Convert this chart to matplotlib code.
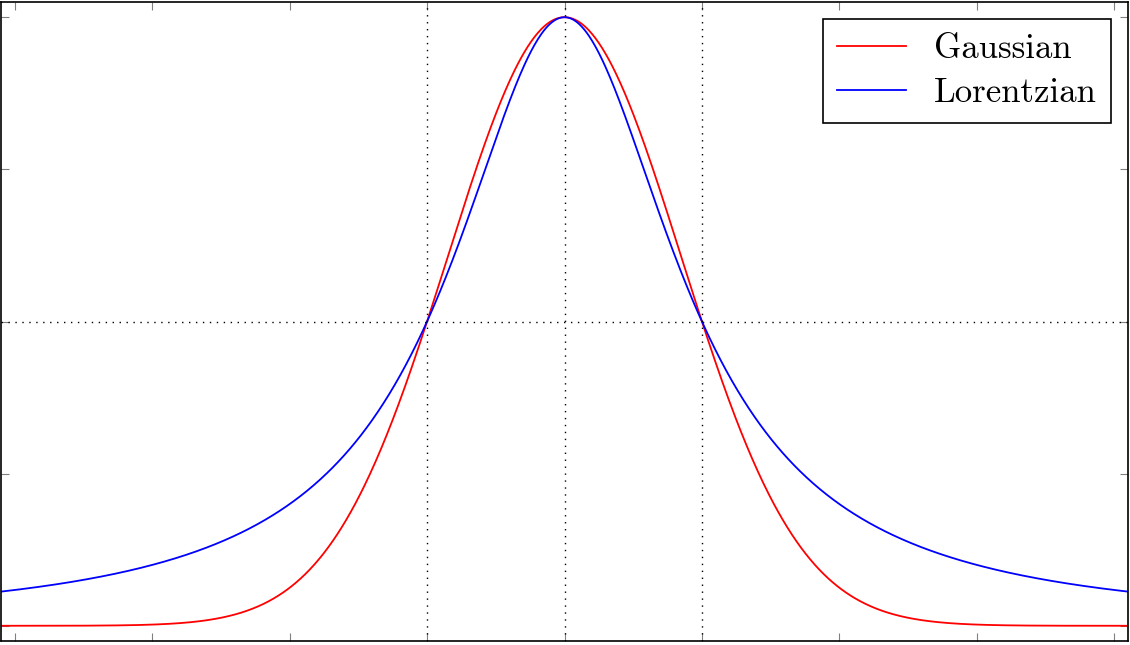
import matplotlib; matplotlib.use('agg')
import matplotlib.pyplot as plt
import numpy as np

# curve parameters (peak 1 at x=0, half maximum at x=+-1)
center = 0.0
half_width = 1.0
peak = 1.0
x_range = (-4.1, 4.1)
y_range = (-0.025, 1.025)
labels = ['Gaussian', 'Lorentzian']
colors = ['red', 'blue']

x = np.linspace(x_range[0], x_range[1], 1000)
sigma = half_width / np.sqrt(2 * np.log(2))
gauss = peak * np.exp(-(x - center)**2 / (2 * sigma**2))
lorentz = peak / (1 + ((x - center) / half_width)**2)

fig = plt.figure(figsize=(11.3, 6.45), dpi=100)
ax = fig.add_axes([1/1130, 4/645, 1127/1130, 639/645])
ax.plot(x, gauss, color=colors[0], lw=1.3, label=labels[0])
ax.plot(x, lorentz, color=colors[1], lw=1.3, label=labels[1])
ax.set_xlim(*x_range)
ax.set_ylim(*y_range)
ax.set_xticks(np.arange(-4, 5, 1))
ax.set_yticks([0, 0.25, 0.5, 0.75, 1.0])
ax.tick_params(direction='in', length=6, color='grey', top=True, right=True,
               labelbottom=False, labelleft=False)
for v in [-1, 0, 1]:
    ax.axvline(v, color='black', ls=(0, (1, 4)), lw=1)
ax.axhline(0.5, color='black', ls=(0, (1, 4)), lw=1)
for s in ax.spines.values():
    s.set_linewidth(1.2)
leg = ax.legend(loc='upper right', fancybox=False, edgecolor='black', framealpha=1,
                prop={'family': 'cmr10', 'size': 25}, handlelength=2.0,
                borderaxespad=0.5, borderpad=0.4, labelspacing=0.35)
leg.get_frame().set_linewidth(1.2)
plt.savefig('out.png')
